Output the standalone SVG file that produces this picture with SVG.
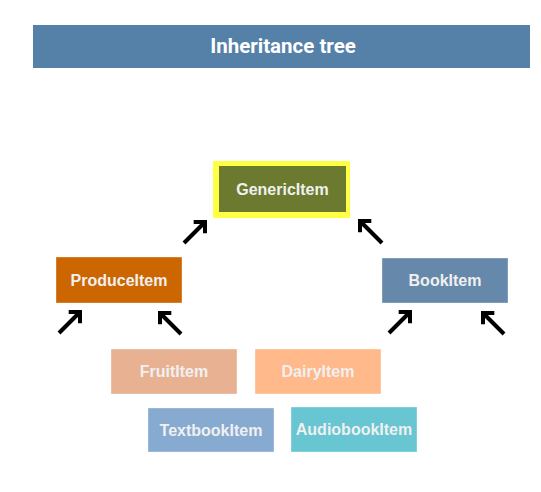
<svg xmlns="http://www.w3.org/2000/svg" width="541" height="492" viewBox="0 0 541 492">
<style>
.lbl{font-family:"Liberation Sans",Arial,sans-serif;font-weight:bold;font-size:16px;fill:#f0f0f0;text-anchor:middle;dominant-baseline:central}
.title{font-family:Roboto,"Liberation Sans",sans-serif;font-weight:bold;font-size:20.5px;fill:#ffffff;text-anchor:middle;dominant-baseline:central}
.box{stroke:#ffffff;stroke-opacity:0.35;stroke-width:1}
.arr{stroke:#000;stroke-width:4;fill:none;marker-end:url(#head)}
</style>
<defs>
<marker id="head" markerUnits="userSpaceOnUse" viewBox="-12 -12 16 24" refX="0" refY="0" markerWidth="16" markerHeight="24" orient="auto">
<path d="M-8,-8 L0,0 L-8,8" fill="none" stroke="#000" stroke-width="4" stroke-linejoin="miter"/>
</marker>
</defs>
<rect width="541" height="492" fill="#ffffff"/>
<g id="title">
<rect x="33" y="25" width="497" height="43" fill="#5580a8"/>
<text class="title" x="283" y="46">Inheritance tree</text>
</g>
<g id="connectors">
<path class="arr" d="M184,243 L205,222"/>
<path class="arr" d="M382,243 L360,221"/>
<path class="arr" d="M59,333 L80,312"/>
<path class="arr" d="M181,334 L160,313"/>
<path class="arr" d="M389,333 L410,312"/>
<path class="arr" d="M504,334 L483,313"/>
</g>
<g id="GenericItem">
<rect x="213" y="161" width="137" height="57" fill="#ffff44"/>
<rect x="219" y="166" width="127" height="46" fill="#6b7a2f"/>
<text class="lbl" x="282.5" y="189">GenericItem</text>
</g>
<g id="ProduceItem">
<rect class="box" x="56" y="257" width="126" height="46" fill="#cc6600"/>
<text class="lbl" x="119" y="280">ProduceItem</text>
</g>
<g id="BookItem">
<rect class="box" x="382" y="258" width="126" height="45" fill="#6688aa"/>
<text class="lbl" x="445" y="280.5">BookItem</text>
</g>
<g id="FruitItem">
<rect class="box" x="111" y="349" width="126" height="45" fill="#e8b292"/>
<text class="lbl" x="174" y="371.5">FruitItem</text>
</g>
<g id="DairyItem">
<rect class="box" x="255" y="349" width="126" height="45" fill="#ffb98b"/>
<text class="lbl" x="318" y="371.5">DairyItem</text>
</g>
<g id="TextbookItem">
<rect class="box" x="148" y="408" width="126" height="44" fill="#87aad1"/>
<text class="lbl" x="211" y="430">TextbookItem</text>
</g>
<g id="AudiobookItem">
<rect class="box" x="291" y="407" width="126" height="45" fill="#67c6d1"/>
<text class="lbl" x="354" y="429.5">AudiobookItem</text>
</g>
</svg>
